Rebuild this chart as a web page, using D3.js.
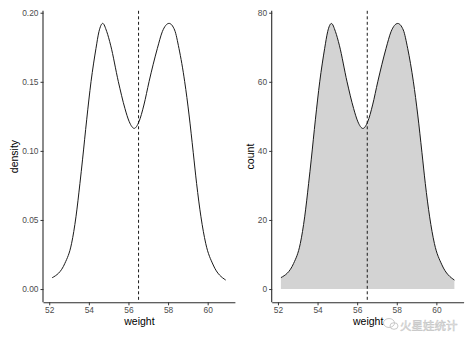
<!DOCTYPE html>
<html>
<head>
<meta charset="utf-8">
<script src="https://cdn.jsdelivr.net/npm/d3@7"></script>
<style>
  html, body { margin: 0; padding: 0; background: #fff; }
  svg { display: block; font-family: "Liberation Sans", Arial, sans-serif; }
</style>
</head>
<body>
<svg id="chart" width="474" height="338"></svg>
<script>
// ---- data ----
const weights = [52.15, 52.79, 53.13, 53.35, 53.55, 53.68, 53.89, 54.11, 54.36, 54.51, 54.70, 54.90, 55.10, 55.49, 55.82, 56.04, 56.29, 56.53, 56.78, 57.04, 57.46, 57.71, 58.05, 58.33, 58.55, 58.84, 59.06, 59.27, 59.44, 59.66, 59.90, 60.28, 60.91];
const density = [0.0082, 0.0186, 0.0331, 0.0523, 0.0765, 0.0935, 0.1225, 0.1501, 0.1742, 0.1863, 0.1923, 0.1865, 0.1765, 0.1501, 0.1308, 0.1211, 0.1163, 0.1211, 0.1332, 0.1501, 0.1742, 0.1863, 0.1923, 0.1875, 0.1742, 0.1501, 0.1260, 0.0990, 0.0765, 0.0523, 0.0331, 0.0174, 0.0065];
const counts  = [3.3, 7.4, 13.2, 20.9, 30.6, 37.4, 49.0, 60.0, 69.7, 74.5, 76.9, 74.6, 70.6, 60.0, 52.3, 48.4, 46.5, 48.4, 53.3, 60.0, 69.7, 74.5, 76.9, 75.0, 69.7, 60.0, 50.4, 39.6, 30.6, 20.9, 13.2, 7.0, 2.6];
const meanWeight = 56.51;
const xTicks = [52, 54, 56, 58, 60];
const densityTicks = [0.00, 0.05, 0.10, 0.15, 0.20];
const countTicks = [0, 20, 40, 60, 80];
const watermark = "火星娃统计";

const svg = d3.select("#chart");
svg.append("rect").attr("width", 474).attr("height", 338).attr("fill", "#fff");

const xDomain = [51.71, 61.40];
const panelTop = 10.8, panelBottom = 302.3;

function panel(opts) {
  const g = svg.append("g");
  const x = d3.scaleLinear().domain(xDomain).range([opts.left, opts.right]);
  const y = d3.scaleLinear().domain(opts.yDomain).range([panelBottom, panelTop]);
  const pts = weights.map((w, i) => [w, opts.values[i]]);

  if (opts.fill) {
    const area = d3.area()
      .x(d => x(d[0])).y0(y(0)).y1(d => y(d[1]))
      .curve(d3.curveMonotoneX);
    g.append("path").datum(pts).attr("d", area)
      .attr("fill", "#D3D3D3").attr("stroke", "none");
  }
  const line = d3.line().x(d => x(d[0])).y(d => y(d[1]))
    .curve(d3.curveMonotoneX);
  g.append("path").datum(pts).attr("d", line)
    .attr("fill", "none").attr("stroke", "#1a1a1a").attr("stroke-width", 1);

  g.append("line")
    .attr("x1", x(meanWeight)).attr("x2", x(meanWeight))
    .attr("y1", panelTop).attr("y2", panelBottom)
    .attr("stroke", "#1a1a1a").attr("stroke-width", 1)
    .attr("stroke-dasharray", "3,2.5");

  // axes
  const xAxis = d3.axisBottom(x).tickValues(xTicks).tickSize(3).tickPadding(2).tickFormat(d3.format("d"));
  const xg = g.append("g").attr("transform", `translate(0,${panelBottom})`).call(xAxis);
  const yAxis = d3.axisLeft(y).tickValues(opts.ticks).tickSize(3).tickPadding(2).tickFormat(opts.fmt);
  const yg = g.append("g").attr("transform", `translate(${opts.left},0)`).call(yAxis);
  [xg, yg].forEach(a => {
    a.select(".domain").attr("stroke", "#2b2b2b").attr("stroke-width", 1.1);
    a.selectAll(".tick line").attr("stroke", "#333");
    a.selectAll(".tick text").attr("fill", "#4D4D4D").style("font-size", "8.4px")
      .style("font-family", '"Liberation Sans", Arial, sans-serif');
  });
  xg.select(".domain").attr("d", `M${opts.left},0.5H${opts.right}`);
  yg.select(".domain").attr("d", `M-0.5,${panelBottom}V${panelTop}`);

  g.append("text").attr("x", (opts.left + opts.right) / 2).attr("y", 325)
    .attr("text-anchor", "middle").attr("fill", "#000").style("font-size", "10.5px").text("weight");
  g.append("text")
    .attr("transform", `translate(${opts.titleX},${(panelTop + panelBottom) / 2}) rotate(-90)`)
    .attr("text-anchor", "middle").attr("fill", "#000").style("font-size", "10.5px").text(opts.title);
}

panel({ left: 43.5, right: 235.4, yDomain: [-0.0096, 0.2014], values: density,
        ticks: densityTicks, fmt: d3.format(".2f"), title: "density", titleX: 18, fill: false });
panel({ left: 272.2, right: 464.1, yDomain: [-3.84, 80.56], values: counts,
        ticks: countTicks, fmt: d3.format("d"), title: "count", titleX: 254, fill: true });

// watermark
const wm = svg.append("g").attr("opacity", 0.9);
wm.append("ellipse").attr("cx", 389).attr("cy", 323).attr("rx", 5.5).attr("ry", 4.5)
  .attr("fill", "none").attr("stroke", "#c4c4c4").attr("stroke-width", 1);
wm.append("ellipse").attr("cx", 394).attr("cy", 326).attr("rx", 4).attr("ry", 3.3)
  .attr("fill", "none").attr("stroke", "#c4c4c4").attr("stroke-width", 1);
wm.append("text").attr("x", 400).attr("y", 330)
  .style("font-family", '"Noto Sans CJK SC", sans-serif').style("font-size", "11.5px")
  .attr("fill", "#eeeeee").attr("stroke", "#bdbdbd").attr("stroke-width", 0.5)
  .text(watermark);
</script>
</body>
</html>
